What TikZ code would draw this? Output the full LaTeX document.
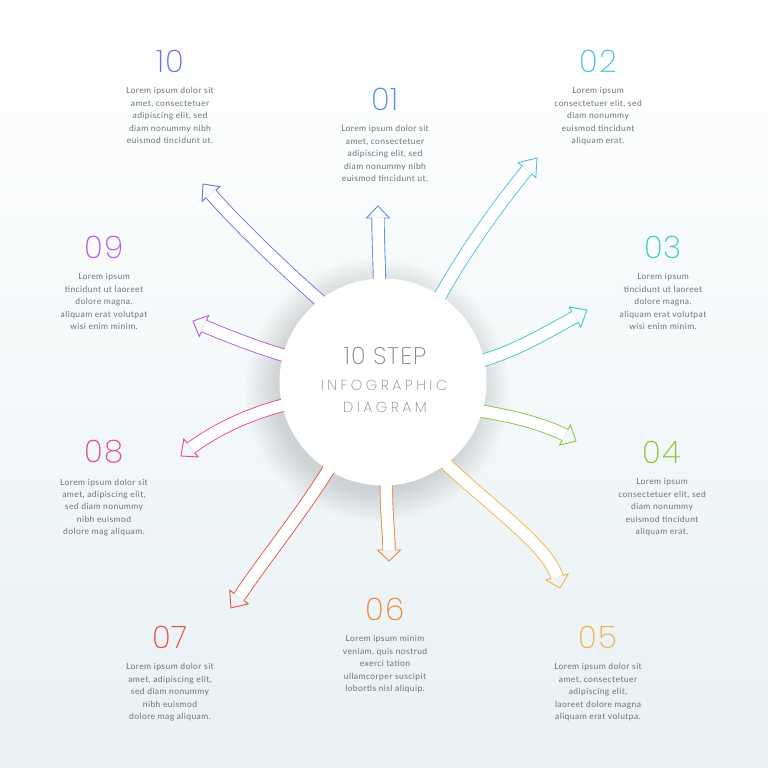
\documentclass[tikz,border=0pt]{standalone}
\usepackage{fontspec}
\setmainfont{Lato}
\IfFontExistsTF{Poppins ExtraLight}{\newfontfamily\numfont{Poppins ExtraLight}}{%
  \IfFontExistsTF{Poppins Light}{\newfontfamily\numfont{Poppins Light}}{\newfontfamily\numfont{Poppins}}}
\usetikzlibrary{calc,positioning}

\definecolor{c01}{HTML}{5E8FE0}
\definecolor{c02}{HTML}{4FC3DC}
\definecolor{c03}{HTML}{3ECFAE}
\definecolor{c04}{HTML}{8AC640}
\definecolor{c05}{HTML}{F2B441}
\definecolor{c06}{HTML}{EF8541}
\definecolor{c07}{HTML}{E8504A}
\definecolor{c08}{HTML}{E9498A}
\definecolor{c09}{HTML}{B45FD8}
\definecolor{c10}{HTML}{7A6FDC}
\definecolor{txtgray}{HTML}{6E7275}
\definecolor{ttlgray}{HTML}{858789}
\definecolor{bgblue}{HTML}{E8F1F4}

\pgfdeclarelayer{back}
\pgfdeclarelayer{front}
\pgfsetlayers{back,main,front}

\tikzset{
  num/.style={font=\numfont\fontsize{31}{32}\selectfont\addfontfeature{LetterSpace=4}, inner sep=0pt},
  body/.style={font=\fontsize{8.5}{12.4}\selectfont\addfontfeature{LetterSpace=5}, text=txtgray, align=center, inner sep=0pt},
  ttl/.style={font=\numfont\fontsize{24}{26}\selectfont\addfontfeature{LetterSpace=4}, text=ttlgray, inner sep=0pt},
  ttlsp/.style={font=\numfont\fontsize{14.5}{16}\selectfont\addfontfeature{LetterSpace=24}, text=ttlgray, inner sep=0pt},
  shaft/.style={draw=#1, double=white, double distance=11.5pt, line width=0.9pt},
  head/.style={draw=#1, line width=0.9pt, line join=miter, line cap=butt},
}

%% number + text block
\newcommand\stepblock[5]{%
  \node[num, text=#4] (n#1) at (#2,#3) {#1};
  \node[body, below=15pt of n#1] (t#1) {#5};
}

%% outlined arrow: colour, start angle on hub, control 1, control 2, base, tip
\newcommand\steparrow[6]{%
  \draw[shaft=#1] ($(hub.center)!0.93!(hub.#2)$) .. controls #3 and #4 .. (#5);
  \draw[head=#1] ($(#5)!6.2pt!90:(#6)$) -- ($(#5)!11.5pt!90:(#6)$) -- (#6)
    -- ($(#5)!11.5pt!-90:(#6)$) -- ($(#5)!6.2pt!-90:(#6)$);
}

\begin{document}
\begin{tikzpicture}[x=1pt, y=-1pt]

  \useasboundingbox (0,0) rectangle (768,768);

  \begin{pgfonlayer}{back}
    \shade[top color=white, bottom color=bgblue] (0,0) rectangle (768,768);
  \end{pgfonlayer}

  %% hub
  \begin{pgfonlayer}{front}
    \node[circle, fill=white, minimum size=207pt, inner sep=0pt] (hub) at (383,382) {};
    \node[ttl] (ttlA) at (385,356) {10 STEP};
    \node[ttlsp] (ttlB) at (384,385) {INFOGRAPHIC};
    \node[ttlsp] (ttlC) at (385,407) {DIAGRAM};
  \end{pgfonlayer}

  %% shadow
  \foreach \i in {1,...,18}
    \fill[black, opacity=0.007] ($(hub.center)+(-6,8)$) circle[radius=100pt+1.8pt*\i];

  %% arrow ends
  \coordinate (b01) at (378,218); \coordinate (e01) at (378,206);
  \coordinate (b02) at (527,170); \coordinate (e02) at (537,158);
  \coordinate (b03) at (575,317); \coordinate (e03) at (587,310);
  \coordinate (b04) at (565,435); \coordinate (e04) at (576,441);
  \coordinate (b05) at (557,577); \coordinate (e05) at (560,588);
  \coordinate (b06) at (389,550); \coordinate (e06) at (389,561);
  \coordinate (b07) at (239,597); \coordinate (e07) at (231,608);
  \coordinate (b08) at (191,448); \coordinate (e08) at (181,456);
  \coordinate (b09) at (204,326); \coordinate (e09) at (193,321);
  \coordinate (b10) at (211,194); \coordinate (e10) at (203,184);

  \steparrow{c01}{92}{(379,255)}{(378,236)}{b01}{e01}
  \steparrow{c02}{56}{(463,253)}{(503,199)}{b02}{e02}
  \steparrow{c03}{12}{(515,352)}{(551,330)}{b03}{e03}
  \steparrow{c04}{-17}{(513,416)}{(543,424)}{b04}{e04}
  \steparrow{c05}{-53}{(482,500)}{(548,545)}{b05}{e05}
  \steparrow{c06}{-88}{(386,515)}{(389,532)}{b06}{e06}
  \steparrow{c07}{-122}{(308,505)}{(262,562)}{b07}{e07}
  \steparrow{c08}{193}{(250,413)}{(215,430)}{b08}{e08}
  \steparrow{c09}{165}{(255,347)}{(228,336)}{b09}{e09}
  \steparrow{c10}{127}{(287,272)}{(235,222)}{b10}{e10}

  %% texts
  \stepblock{10}{170}{61}{c10}{Lorem ipsum dolor sit\\amet, consectetuer\\adipiscing elit, sed\\diam nonummy nibh\\euismod tincidunt ut.}
  \stepblock{01}{385}{99}{c01}{Lorem ipsum dolor sit\\amet, consectetuer\\adipiscing elit, sed\\diam nonummy nibh\\euismod tincidunt ut.}
  \stepblock{02}{598}{61}{c02}{Lorem ipsum\\consectetuer elit, sed\\diam nonummy\\euismod tincidunt\\aliquam erat.}
  \stepblock{03}{663}{247}{c03}{Lorem ipsum\\tincidunt ut laoreet\\dolore magna.\\aliquam erat volutpat\\wisi enim minim.}
  \stepblock{04}{662}{452}{c04}{Lorem ipsum\\consectetuer elit, sed\\diam nonummy\\euismod tincidunt\\aliquam erat.}
  \stepblock{05}{598}{637}{c05}{Lorem ipsum dolor sit\\amet, consectetuer\\adipiscing elit,\\laoreet dolore magna\\aliquam erat volutpa.}
  \stepblock{06}{385}{609}{c06}{Lorem ipsum minim\\veniam, quis nostrud\\exerci tation\\ullamcorper suscipit\\lobortis nisl aliquip.}
  \stepblock{07}{170}{637}{c07}{Lorem ipsum dolor sit\\amet, adipiscing elit,\\sed diam nonummy\\nibh euismod\\dolore mag aliquam.}
  \stepblock{08}{104}{452}{c08}{Lorem ipsum dolor sit\\amet, adipiscing elit,\\sed diam nonummy\\nibh euismod\\dolore mag aliquam.}
  \stepblock{09}{104}{247}{c09}{Lorem ipsum\\tincidunt ut laoreet\\dolore magna.\\aliquam erat volutpat\\wisi enim minim.}

\end{tikzpicture}
\end{document}
